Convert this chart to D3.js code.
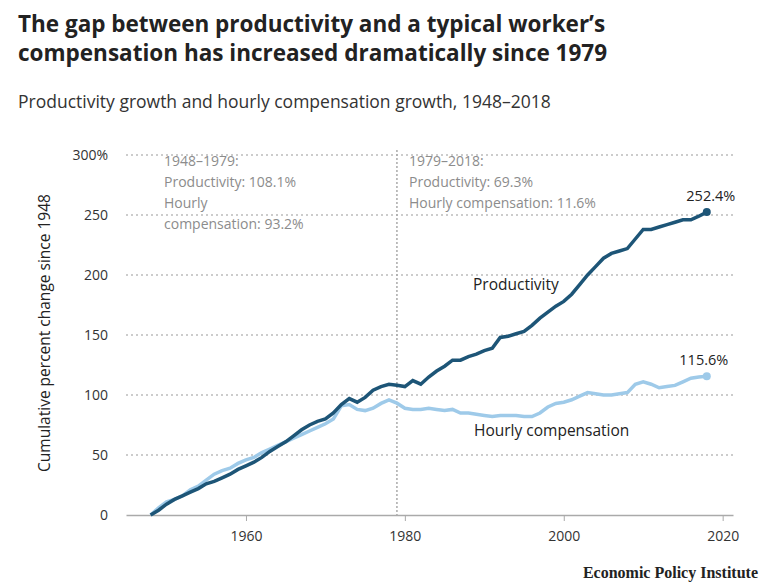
<!DOCTYPE html><html><head><meta charset="utf-8"><script src="https://cdn.jsdelivr.net/npm/d3@7"></script>
<style>body{margin:0;background:#fff}svg{font-family:"Open Sans",Lato,sans-serif}</style></head><body><svg id="c" width="768" height="587"></svg><script>
const years = d3.range(1948, 2019);
const productivity = [0,4,9,13,16,19,22,26,28,31,34,38,41,44,48,53,57,61,66,71,75,78,80,85,92,97,94,98,104,107,109,108.1,107,112,109,115,120,124,129,129,132,134,137,139,148,149,151,153,158,164,169,174,178,184,192,200,207,214,218,220,222,230,238,238,240,242,244,246,246,249,252.4];
const compensation = [0,6,11,13,16,21,24,29,34,37,39,43,46,48,52,55,58,61,64,67,70,73,76,80,91,92,88,87,89,93,96,93.2,89,88,88,89,88,87,88,85,85,84,83,82,83,83,83,82,82,85,90,93,94,96,99,102,101,100,100,101,102,109,111,109,106,107,108,111,114,115,115.6];
const yTicks = [0,50,100,150,200,250,300];
const xTicks = [1960,1980,2000,2020];

const svg = d3.select("#c");
const x = d3.scaleLinear().domain([1944.9, 2021.3]).range([126, 733]);
const y = d3.scaleLinear().domain([0, 300]).range([515, 155]);

svg.append("text").attr("x",18).attr("y",32).attr("font-size",22.5).attr("font-weight",700).attr("fill","#222").text("The gap between productivity and a typical worker’s");
svg.append("text").attr("x",18).attr("y",61).attr("font-size",22.5).attr("font-weight",700).attr("fill","#222").text("compensation has increased dramatically since 1979");
svg.append("text").attr("x",18).attr("y",108).attr("font-size",17.5).attr("fill","#333").text("Productivity growth and hourly compensation growth, 1948–2018");

svg.append("g").selectAll("line").data(yTicks.filter(d=>d>0)).join("line")
 .attr("x1",126).attr("x2",733).attr("y1",d=>y(d)).attr("y2",d=>y(d))
 .attr("stroke","#ccc").attr("stroke-width",2).attr("stroke-dasharray","2,3");
svg.append("g").selectAll("text").data(yTicks).join("text")
 .attr("x",108).attr("y",d=>y(d)+5).attr("text-anchor","end").attr("font-size",14).attr("fill","#333")
 .text(d=>d===300?"300%":d);
const xa = svg.append("g").attr("transform","translate(0,515)").call(d3.axisBottom(x).tickValues(xTicks).tickFormat(d3.format("d")).tickSize(6).tickSizeOuter(0));
xa.select(".domain").attr("stroke","#aaa").attr("stroke-width",1.5);
xa.selectAll(".tick line").attr("stroke","#aaa");
xa.selectAll("text").attr("font-size",14).attr("fill","#333").attr("font-family","'Open Sans',sans-serif").attr("dy","1.2em");
svg.append("line").attr("x1",x(1979)).attr("x2",x(1979)).attr("y1",150).attr("y2",515)
 .attr("stroke","#aaa").attr("stroke-width",1.5).attr("stroke-dasharray","2,2");

svg.append("text").attr("transform","translate(50,333) rotate(-90)").attr("text-anchor","middle").attr("font-size",15.5).attr("fill","#222").text("Cumulative percent change since 1948");

const line = d3.line().x((d,i)=>x(years[i])).y(d=>y(d));
svg.append("path").datum(compensation).attr("d",line).attr("fill","none").attr("stroke","#9ecae9").attr("stroke-width",3.5);
svg.append("path").datum(productivity).attr("d",line).attr("fill","none").attr("stroke","#1d5577").attr("stroke-width",3.5);
svg.append("circle").attr("cx",x(2018)).attr("cy",y(252.4)).attr("r",4).attr("fill","#1d5577");
svg.append("circle").attr("cx",x(2018)).attr("cy",y(115.6)).attr("r",4).attr("fill","#9ecae9");
svg.append("text").attr("x",x(2018)+4).attr("y",y(252.4)-11).attr("text-anchor","middle").attr("font-size",14.5).attr("fill","#222").text("252.4%");
svg.append("text").attr("x",x(2018)-3).attr("y",y(115.6)-11).attr("text-anchor","middle").attr("font-size",14.5).attr("fill","#222").text("115.6%");
svg.append("text").attr("x",473).attr("y",290).attr("font-size",15.5).attr("fill","#222").text("Productivity");
svg.append("text").attr("x",474).attr("y",436).attr("font-size",15.5).attr("fill","#222").text("Hourly compensation");

const notes = [[164,["1948–1979:","Productivity: 108.1%","Hourly","compensation: 93.2%"]],[409,["1979–2018:","Productivity: 69.3%","Hourly compensation: 11.6%"]]];
notes.forEach(([nx,ls])=>svg.append("g").selectAll("text").data(ls).join("text")
 .attr("x",nx).attr("y",(d,i)=>166+i*21).attr("font-size",14).attr("fill","#8c8c8c").text(d=>d));

svg.append("text").attr("x",758).attr("y",578).attr("text-anchor","end").attr("font-family","'Liberation Serif',serif").attr("font-weight",700).attr("font-size",16).attr("fill","#222").text("Economic Policy Institute");
</script></body></html>
